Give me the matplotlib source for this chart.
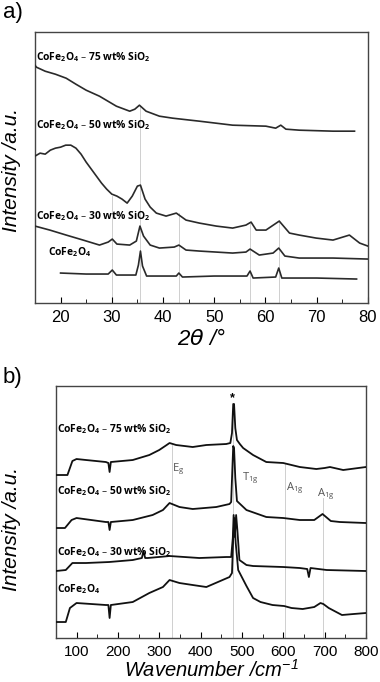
import matplotlib
matplotlib.use("Agg")
import matplotlib.pyplot as plt
from matplotlib.ticker import MultipleLocator

plt.rcParams["font.family"] = ["Liberation Sans", "DejaVu Sans"]
plt.rcParams["mathtext.default"] = "regular"

# ---------- a) XRD patterns ----------
tt75 = [15.0, 15.3, 17.0, 19.0, 21.1, 23.0, 25.0, 27.6, 30.9, 33.5, 34.5, 35.4, 36.7,
        39.3, 41.9, 47.1, 53.6, 60.1, 62.0, 63.0, 64.0, 66.6, 73.2, 77.4]
I75 = [238, 236, 232, 229, 225, 219, 213, 207, 197, 192, 194, 198, 192,
       187, 185, 182, 178, 177, 175, 178, 174, 173, 172, 172]

tt50 = [15.0, 16.0, 17.0, 18.0, 19.0, 20.0, 21.0, 22.0, 23.0, 24.0, 25.0, 26.0, 27.0,
        28.0, 29.0, 30.0, 31.0, 32.0, 33.0, 34.0, 35.0, 35.6, 36.5, 37.5, 38.7, 40.6,
        42.6, 44.5, 47.1, 50.4, 53.6, 56.2, 57.2, 58.2, 60.1, 62.7, 64.7, 66.6, 69.9,
        73.2, 76.4, 78.4, 80.0]
I50 = [147, 150, 149, 153, 155, 156, 158, 158, 155, 149, 141, 134, 127,
       120, 114, 109, 107, 104, 100, 107, 117, 118, 104, 96, 90, 87,
       90, 83, 80, 77, 75, 78, 81, 73, 73, 82, 70, 68, 65,
       63, 68, 60, 57]

tt30 = [15.0, 17.9, 21.1, 24.4, 27.6, 29.3, 30.1, 31.0, 33.5, 34.8, 35.5, 36.2, 37.5,
        39.3, 42.2, 43.1, 44.5, 47.1, 53.6, 56.2, 57.0, 58.8, 61.5, 62.6, 63.8, 66.6,
        73.2, 80.0]
I30 = [77, 73, 68, 63, 58, 61, 64, 59, 58, 62, 77, 67, 58,
       55, 56, 58, 53, 52, 50, 51, 54, 48, 50, 55, 47, 45,
       45, 44]

tt0 = [20.0, 25.0, 29.3, 30.1, 30.9, 34.7, 35.2, 35.6, 36.0, 36.8, 40.0, 42.6, 43.1,
       43.8, 50.0, 56.4, 57.0, 57.6, 62.0, 62.6, 63.2, 70.0, 77.8]
I0 = [30, 29, 29, 33, 28, 28, 38, 52, 37, 27, 27, 27, 30,
      26, 27, 27, 32, 25, 26, 35, 25, 25, 24]

xrd_lines = [30.1, 35.5, 43.1, 57.0, 62.6]
xrd_line_tops = [107, 197, 90, 80, 83]

# ---------- b) Raman spectra ----------
w75 = [50, 78, 84, 90, 100, 123, 171, 177, 180, 183, 236, 276, 300, 318, 325, 341,
       381, 414, 462, 472, 476, 479, 481, 484, 488, 495, 503, 527, 559, 600, 640, 680,
       700, 713, 745, 800]
R75 = [163, 163, 170, 177, 179, 178, 176, 175, 166, 176, 178, 183, 188, 193, 195, 193,
       191, 193, 194, 195, 205, 234, 234, 210, 198, 194, 190, 183, 176, 175, 171, 169,
       170, 171, 168, 171]

w50 = [50, 72, 80, 88, 100, 171, 177, 180, 183, 236, 284, 309, 325, 349, 381, 438,
       470, 474, 477, 479, 481, 484, 488, 511, 559, 600, 640, 675, 695, 715, 737, 800]
R50 = [110, 110, 114, 118, 120, 116, 116, 108, 116, 118, 123, 128, 135, 131, 129, 131,
       134, 136, 170, 192, 190, 160, 137, 128, 121, 120, 118, 118, 124, 117, 116, 115]

w30 = [50, 74, 90, 123, 179, 236, 258, 262, 266, 272, 325, 397, 462, 474, 478, 480,
       483, 486, 489, 494, 511, 527, 600, 640, 658, 662, 666, 705, 800]
R30 = [67, 68, 75, 75, 76, 78, 80, 87, 80, 80, 82, 80, 81, 81, 100, 123,
       101, 123, 108, 78, 73, 72, 71, 70, 69, 61, 70, 68, 67]

w0 = [50, 74, 84, 100, 171, 177, 180, 183, 236, 276, 309, 325, 349, 381, 414, 470,
      476, 479, 482, 485, 491, 511, 527, 545, 574, 602, 620, 647, 675, 690, 697, 710,
      742, 770, 800]
R0 = [16, 16, 30, 35, 33, 33, 20, 33, 36, 45, 51, 58, 55, 53, 51, 61,
      65, 100, 120, 95, 68, 52, 40, 36, 33, 32, 30, 29, 31, 35, 34, 30,
      23, 24, 25]

raman_lines = [330, 478, 604, 696]
raman_line_tops = [193, 234, 175, 140]

fig = plt.figure(figsize=(3.8, 6.82), dpi=100)
axa = fig.add_axes([0.092, 0.5557, 0.876, 0.397])
axb = fig.add_axes([0.147, 0.0645, 0.816, 0.3695])

lbl = dict(family=["Open Sans", "DejaVu Sans"], fontweight="bold", fontsize=7.4)

# panel a
for x, top in zip(xrd_lines, xrd_line_tops):
    axa.plot([x, x], [0, top], color="#c8c8c8", lw=0.6, zorder=1)
for tt, I in [(tt75, I75), (tt50, I50), (tt30, I30), (tt0, I0)]:
    axa.plot(tt, I, color="#2a2a2a", lw=1.2, zorder=3)
axa.text(15.2, 243, r"CoFe$_2$O$_4$ – 75 wt% SiO$_2$", **lbl)
axa.text(15.2, 175, r"CoFe$_2$O$_4$ – 50 wt% SiO$_2$", **lbl)
axa.text(15.2, 84, r"CoFe$_2$O$_4$ – 30 wt% SiO$_2$", **lbl)
axa.text(17.5, 48, r"CoFe$_2$O$_4$", **lbl)
axa.set_xlim(15, 80)
axa.set_ylim(0, 271)
axa.set_yticks([])
axa.xaxis.set_major_locator(MultipleLocator(10))
axa.xaxis.set_minor_locator(MultipleLocator(5))
axa.tick_params(axis="x", which="both", direction="in", labelsize=12, pad=5)
axa.tick_params(axis="x", which="major", length=4)
axa.tick_params(axis="x", which="minor", length=3)
axa.set_xlabel(r"2$\mathit{\theta}$ /°", fontsize=16, fontstyle="italic", labelpad=3)
axa.set_ylabel("Intensity /a.u.", fontsize=15, fontstyle="italic")
axa.yaxis.set_label_coords(-0.042, 0.49)

# panel b
for x, top in zip(raman_lines, raman_line_tops):
    axb.plot([x, x], [0, top], color="#c8c8c8", lw=0.6, zorder=1)
for w, R in [(w75, R75), (w50, R50), (w30, R30), (w0, R0)]:
    axb.plot(w, R, color="#111111", lw=1.3, zorder=3)
axb.text(53, 206, r"CoFe$_2$O$_4$ – 75 wt% SiO$_2$", **lbl)
axb.text(53, 144, r"CoFe$_2$O$_4$ – 50 wt% SiO$_2$", **lbl)
axb.text(53, 83, r"CoFe$_2$O$_4$ – 30 wt% SiO$_2$", **lbl)
axb.text(53, 46, r"CoFe$_2$O$_4$", **lbl)
mode = dict(family=["Open Sans", "DejaVu Sans"], fontsize=8, color="#555555", ha="center")
axb.text(345, 167, r"E$_g$", **mode)
axb.text(520, 158, r"T$_{1g}$", **mode)
axb.text(628, 148, r"A$_{1g}$", **mode)
axb.text(702, 142, r"A$_{1g}$", **mode)
axb.text(477, 240, "*", fontsize=9, ha="center", va="center", fontweight="bold")
axb.set_xlim(50, 800)
axb.set_ylim(0, 252)
axb.set_yticks([])
axb.xaxis.set_major_locator(MultipleLocator(100))
axb.xaxis.set_minor_locator(MultipleLocator(50))
axb.tick_params(axis="x", which="both", direction="in", labelsize=11, pad=5)
axb.tick_params(axis="x", which="major", length=4)
axb.tick_params(axis="x", which="minor", length=3)
axb.set_xlabel(r"Wavenumber /cm$^{-1}$", fontsize=14.5, fontstyle="italic", labelpad=0)
axb.set_ylabel("Intensity /a.u.", fontsize=15, fontstyle="italic")
axb.yaxis.set_label_coords(-0.113, 0.433)

for ax in (axa, axb):
    for s in ax.spines.values():
        s.set_color("#444444")
        s.set_linewidth(1.0)

fig.text(0.008, 0.982, "a)", fontsize=16, va="center")
fig.text(0.008, 0.446, "b)", fontsize=16, va="center")

fig.savefig("out.png", dpi=100)
